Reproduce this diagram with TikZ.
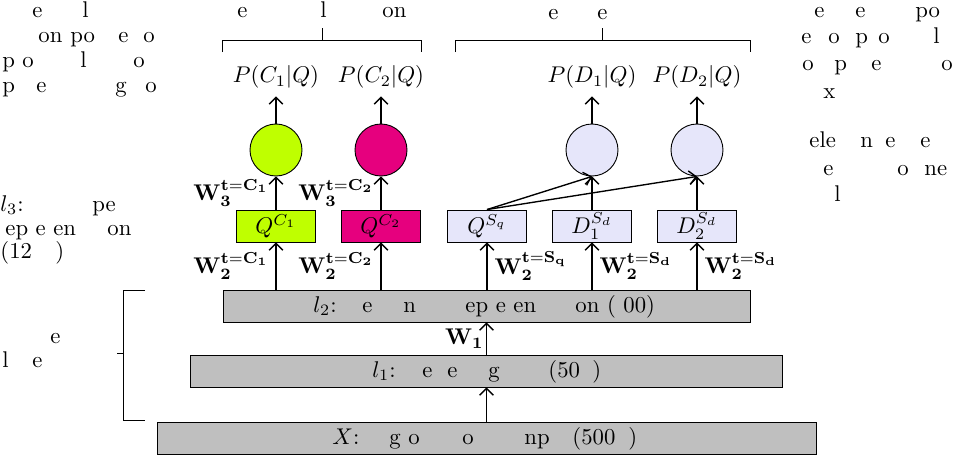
\documentclass[tikz,border=0pt]{standalone}
\usetikzlibrary{arrows.meta}
\definecolor{lime}{HTML}{BFFF00}
\definecolor{mag}{HTML}{E6007E}
\definecolor{lav}{HTML}{E6E6FA}
\definecolor{grayb}{HTML}{BFBFBF}
\newcommand\pxs{0.44}
\newcommand\frag[3]{\node[anchor=base west,inner sep=0] at (#1,#2) {#3};}
\begin{document}
\begin{tikzpicture}[x=\pxs pt,y=-\pxs pt,
  bar/.style={draw,fill=grayb,minimum height={32*\pxs pt},inner sep=0},
  hbox/.style={draw,minimum width={79*\pxs pt},minimum height={32*\pxs pt},inner sep=0},
  circ/.style={draw,circle,minimum size={52*\pxs pt},inner sep=0},
  arr/.style={-{Straight Barb[length=3pt]},semithick},
  wl/.style={inner sep=1pt}]
\useasboundingbox (0,0) rectangle (977,458);
% bars
\node[bar,minimum width={527*\pxs pt}] (l2) at (486.5,306) {};
\node[bar,minimum width={592*\pxs pt}] (l1) at (486.5,371) {};
\node[bar,minimum width={659*\pxs pt}] (X) at (486.5,438) {};
\frag{313}{312}{$l_2$:} \frag{362}{312}{e} \frag{403}{312}{n} \frag{465}{312}{ep e en} \frag{575}{312}{on ( 00)}
\frag{372}{377}{$l_1$:} \frag{422}{377}{e} \frag{447}{377}{e} \frag{488}{377}{g} \frag{548}{377}{(50} \frag{592}{377}{)}
\frag{332}{444}{$X$:} \frag{389}{444}{g o} \frag{462}{444}{o} \frag{524}{444}{np} \frag{572}{444}{(500} \frag{628}{444}{)}
% task boxes
\node[hbox,fill=lime] (qc1) at (276,226) {$Q^{C_1}$};
\node[hbox,fill=mag] (qc2) at (381,226) {$Q^{C_2}$};
\node[hbox,fill=lav] (qs) at (487,226) {$Q^{S_q}$};
\node[hbox,fill=lav] (d1) at (592,226) {$D_1^{S_d}$};
\node[hbox,fill=lav] (d2) at (697,226) {$D_2^{S_d}$};
% circles
\node[circ,fill=lime] (c1) at (276,150) {};
\node[circ,fill=mag] (c2) at (381,150) {};
\node[circ,fill=lav] (c3) at (592,150) {};
\node[circ,fill=lav] (c4) at (697,150) {};
% probabilities
\node (p1) at (276,77) {$P(C_1|Q)$};
\node (p2) at (381,77) {$P(C_2|Q)$};
\node (p3) at (592,77) {$P(D_1|Q)$};
\node (p4) at (697,77) {$P(D_2|Q)$};
% arrows
\draw[arr] (X.north) -- (l1.south);
\draw[arr] (l1.north) -- node[left,wl]{$\mathbf{W_1}$} (l2.south);
\draw[arr] (l2.north -| qc1) -- node[left,wl,xshift=-2pt]{$\mathbf{W_2^{t=C_1}}$} (qc1.south);
\draw[arr] (l2.north -| qc2) -- node[left,wl,xshift=-2pt]{$\mathbf{W_2^{t=C_2}}$} (qc2.south);
\draw[arr] (l2.north -| qs) -- node[right,wl,xshift=2pt]{$\mathbf{W_2^{t=S_q}}$} (qs.south);
\draw[arr] (l2.north -| d1) -- node[right,wl,xshift=2pt]{$\mathbf{W_2^{t=S_d}}$} (d1.south);
\draw[arr] (l2.north -| d2) -- node[right,wl,xshift=2pt]{$\mathbf{W_2^{t=S_d}}$} (d2.south);
\draw[arr] (qc1.north) -- node[left,wl,xshift=-2pt]{$\mathbf{W_3^{t=C_1}}$} (c1.south);
\draw[arr] (qc2.north) -- node[left,wl,xshift=-2pt]{$\mathbf{W_3^{t=C_2}}$} (c2.south);
\draw[arr] (d1.north) -- (c3.south);
\draw[arr] (d2.north) -- (c4.south);
\draw[arr] (qs.north) -- (c3.south);
\draw[arr] (qs.north) -- (c4.south);
\draw[arr] (c1.north) -- (p1.south);
\draw[arr] (c2.north) -- (p2.south);
\draw[arr] (c3.north) -- (p3.south);
\draw[arr] (c4.north) -- (p4.south);
% top brackets
\draw (222,52) -- (222,40) -- (421,40) -- (421,52); \draw (322,40) -- (322,28);
\draw (455,52) -- (455,40) -- (750,40) -- (750,52); \draw (602,40) -- (602,28);
\frag{237}{17}{e} \frag{320}{17}{l} \frag{382}{17}{on}
\frag{548}{19}{e} \frag{597}{19}{e}
% left brace
\draw (145,290) -- (123,290) -- (123,420) -- (145,420); \draw (117,353) -- (123,353);
\frag{50}{343}{e} \frag{2}{367}{l} \frag{32}{367}{e}
% left top text
\frag{32}{17}{e} \frag{82}{17}{l}
\frag{38}{42}{on} \frag{70}{42}{po} \frag{118}{42}{e} \frag{143}{42}{o}
\frag{2}{67}{p} \frag{22}{67}{o} \frag{80}{67}{l} \frag{133}{67}{o}
\frag{2}{92}{p} \frag{36}{92}{e} \frag{115}{92}{g} \frag{145}{92}{o}
% l3 text
\frag{0}{211}{$l_3$:} \frag{92}{211}{pe}
\frag{5}{235}{ep e en} \frag{107}{235}{on}
\frag{0}{258}{(12} \frag{55}{258}{)}
% right text
\frag{814}{17}{e} \frag{855}{17}{e} \frag{915}{17}{po}
\frag{801}{43}{e} \frag{828}{43}{o} \frag{855}{43}{p} \frag{878}{43}{o} \frag{933}{43}{l}
\frag{802}{70}{o} \frag{834}{70}{p} \frag{871}{70}{e} \frag{941}{70}{o}
\frag{823}{98}{x}
\frag{809}{147}{ele} \frag{860}{147}{n} \frag{885}{147}{e} \frag{920}{147}{e}
\frag{823}{175}{e} \frag{897}{175}{o} \frag{924}{175}{ne}
\frag{834}{201}{l}
\end{tikzpicture}
\end{document}
